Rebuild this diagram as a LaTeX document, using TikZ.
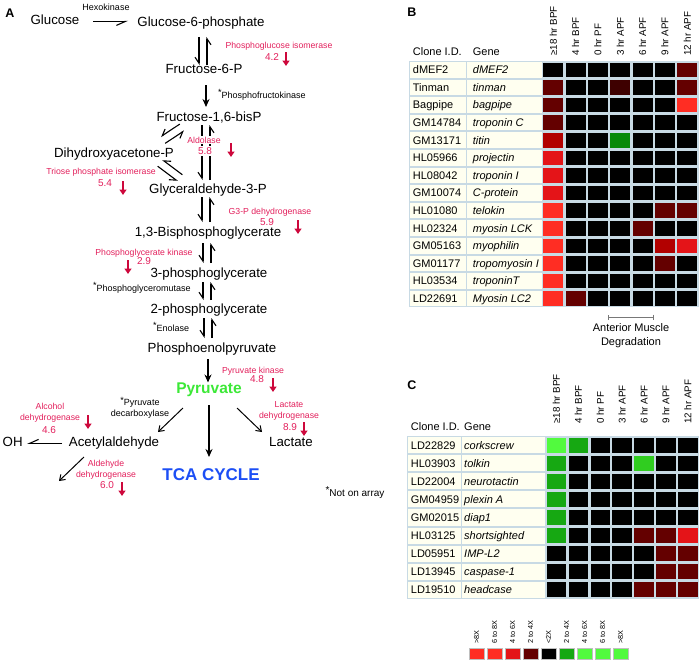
\documentclass[tikz,border=0pt]{standalone}
\usepackage{fontspec}
\setmainfont{Liberation Sans}
\usetikzlibrary{arrows.meta, calc}
\definecolor{cPink}{RGB}{226,32,92}
\definecolor{cPinkArrow}{RGB}{205,8,60}
\definecolor{cPyr}{RGB}{60,232,55}
\definecolor{cTca}{RGB}{28,78,245}
\definecolor{cCream}{RGB}{255,255,240}
\definecolor{cGrid}{RGB}{200,218,228}
\definecolor{cBracket}{RGB}{120,120,120}
\definecolor{hmK}{RGB}{0,0,0}
\definecolor{hmE}{RGB}{62,0,0}
\definecolor{hmD}{RGB}{100,0,0}
\definecolor{hmM}{RGB}{178,0,0}
\definecolor{hmR}{RGB}{228,20,24}
\definecolor{hmB}{RGB}{255,45,35}
\definecolor{hmN}{RGB}{8,138,8}
\definecolor{hmG}{RGB}{22,168,18}
\definecolor{hmH}{RGB}{48,205,32}
\definecolor{hmL}{RGB}{82,250,62}
\tikzset{
  met/.style={font=\fontsize{13.3}{15}\selectfont, inner sep=0pt,
              text height=9.5pt, text depth=2.8pt},
  enz/.style={font=\fontsize{8.7}{11}\selectfont, text=cPink, inner sep=0pt, align=center},
  enzval/.style={font=\fontsize{10}{12}\selectfont, text=cPink, inner sep=0pt},
  note/.style={font=\fontsize{9}{11}\selectfont, inner sep=0pt, align=center},
  panel/.style={font=\bfseries\fontsize{12.5}{14}\selectfont, inner sep=0pt},
  harp/.style={-{Straight Barb[right, length=6pt, width=8pt]}, line width=1.1pt},
  longharp/.style={-{Straight Barb[right, length=9pt, width=8pt]}, line width=1.1pt},
  bigarrow/.style={-{Stealth[length=8pt, width=7pt]}, line width=1.9pt},
  thinarrow/.style={-{Straight Barb[length=5pt, width=7pt]}, line width=1pt},
  pinkarrow/.style={-{Triangle[length=5.5pt, width=7pt]}, line width=2pt, draw=cPinkArrow},
  tabtext/.style={font=\fontsize{11}{13}\selectfont, anchor=west, inner sep=0pt,
                  text height=8pt, text depth=2.3pt},
  genetext/.style={tabtext, font=\itshape\fontsize{11}{13}\selectfont},
  colhead/.style={font=\fontsize{9.8}{11}\selectfont, rotate=90, anchor=west, inner sep=0pt},
  keyhead/.style={font=\fontsize{7.3}{9}\selectfont, rotate=90, anchor=west, inner sep=0pt},
  bracket/.style={{Bar[width=5pt]}-{Bar[width=5pt]}, draw=cBracket, line width=1pt},
}
\newcommand{\revpair}[2]{%
  \draw[harp] ($#1!4pt!-90:#2$) -- ($#2!4pt!90:#1$);
  \draw[harp] ($#2!4pt!-90:#1$) -- ($#1!4pt!90:#2$);
}
\newcommand{\downmark}[2]{\draw[pinkarrow] (#1,#2) -- ++(0,14);}

\begin{document}
\begin{tikzpicture}[x=1pt, y=-1pt]
\useasboundingbox (0,0) rectangle (700,661);

%% ============================================================
%%  PANEL A -- glycolysis
%% ============================================================
\node[panel] (pA) at (10,13) {A};

%% ----- metabolites -----
\node[met] (glc)   at (55,21.4)   {Glucose};
\node[met] (g6p)   at (201,23.4)  {Glucose-6-phosphate};
\node[met] (f6p)   at (204,70.4)  {Fructose-6-P};
\node[met] (f16bp) at (209,118.4) {Fructose-1,6-bisP};
\node[met] (dhap)  at (114,154.4) {Dihydroxyacetone-P};
\node[met] (ga3p)  at (208,190.4) {Glyceraldehyde-3-P};
\node[met] (bpg)   at (208,233.4) {1,3-Bisphosphoglycerate};
\node[met] (pg3)   at (209,274.4) {3-phosphoglycerate};
\node[met] (pg2)   at (209,310.4) {2-phosphoglycerate};
\node[met] (pep)   at (212,349.4) {Phosphoenolpyruvate};
\node[font=\bfseries\fontsize{15.5}{17}\selectfont, text=cPyr, inner sep=0pt]
  (pyr) at (209,389.5) {Pyruvate};
\node[met] (acet)  at (114,443.4) {Acetylaldehyde};
\node[met] (lact)  at (291,443.4) {Lactate};
\node[met, anchor=west] (etoh) at (2.5,443.4) {OH};
\node[font=\bfseries\fontsize{17}{19}\selectfont, text=cTca, inner sep=0pt]
  (tca) at (211,475) {TCA CYCLE};

%% ----- reactions -----
\draw[longharp] ([shift={(38,0)}]glc.center) -- ([shift={(-73,-2)}]g6p.center);
\revpair{([shift={(2,13.6)}]g6p.center)}{([shift={(-1,-5.4)}]f6p.center)}
\draw[bigarrow] ([shift={(2,14.6)}]f6p.center) -- ([shift={(-3,-11.4)}]f16bp.center);
\revpair{([shift={(-27,9)}]f16bp.center)}{([shift={(49,-14.4)}]dhap.center)}
\revpair{([shift={(-3,6.6)}]f16bp.center)}{([shift={(-2,-10.4)}]ga3p.center)}
\revpair{([shift={(46,8.6)}]dhap.center)}{([shift={(-28,-12.4)}]ga3p.center)}
\revpair{([shift={(-2,6.6)}]ga3p.center)}{([shift={(-2,-11.4)}]bpg.center)}
\revpair{([shift={(-1,9.6)}]bpg.center)}{([shift={(-2,-11.4)}]pg3.center)}
\revpair{([shift={(-2,7.6)}]pg3.center)}{([shift={(-2,-10.4)}]pg2.center)}
\revpair{([shift={(-1,7.6)}]pg2.center)}{([shift={(-4,-11.4)}]pep.center)}
\draw[bigarrow] ([shift={(-4,10)}]pep.center) -- ([shift={(-1,-7)}]pyr.center);
\draw[bigarrow] ([shift={(0,15.5)}]pyr.center) -- ([shift={(-2,-18)}]tca.center);
\draw[thinarrow] ([shift={(-26,18.5)}]pyr.center) -- ([shift={(44,-11.4)}]acet.center);
\draw[thinarrow] ([shift={(28,18.5)}]pyr.center) -- ([shift={(-29,-11.4)}]lact.center);
\draw[longharp] ([shift={(-52,0)}]acet.center) -- ([shift={(24.5,0)}]etoh.west);
\coordinate (acetate) at (59,481);
\draw[thinarrow] ([shift={(-30,13.6)}]acet.center) -- (acetate);

%% ----- enzymes not on array -----
\node[note] (hexo) at (106,7) {Hexokinase};
\node[note, anchor=west] (pfk) at (218,95) {\raisebox{2.5pt}{*}Phosphofructokinase};
\node[note, anchor=west] (pgm) at (93,288) {\raisebox{2.5pt}{*}Phosphoglyceromutase};
\node[note, anchor=west] (eno) at (153,327) {\raisebox{2.5pt}{*}Enolase};
\node[note] (pdc) at (140,408) {\raisebox{2.5pt}{*}Pyruvate\\decarboxylase};
\node[note, font=\fontsize{10}{12}\selectfont] (notarr) at (355,493)
  {\raisebox{3pt}{*}Not on array};

%% ----- enzymes on array (fold change) -----
\node[enz] (pgi) at (279,46) {Phosphoglucose isomerase};
\node[enzval] (pgiV) at (272,57) {4.2};
\downmark{286}{52}
\node[enz, fill=white, inner sep=1pt] (ald) at (204,140) {Aldolase};
\node[enzval, fill=white, inner sep=1pt] (aldV) at (205,151) {5.8};
\downmark{231}{143}
\node[enz] (tpi) at (101,172) {Triose phosphate isomerase};
\node[enzval] (tpiV) at (105,183) {5.4};
\downmark{123}{181}
\node[enz] (gapdh) at (270,212.5) {G3-P dehydrogenase};
\node[enzval] (gapdhV) at (267,221.8) {5.9};
\downmark{298}{220}
\node[enz] (pgk) at (144,253) {Phosphoglycerate kinase};
\node[enzval] (pgkV) at (144,261.5) {2.9};
\downmark{128}{260}
\node[enz] (pk) at (253,371) {Pyruvate kinase};
\node[enzval] (pkV) at (257,379.5) {4.8};
\downmark{273}{378}
\node[enz] (adh) at (50,412.5) {Alcohol\\dehydrogenase};
\node[enzval] (adhV) at (49,430) {4.6};
\downmark{88}{415}
\node[enz] (ldh) at (289,410.5) {Lactate\\dehydrogenase};
\node[enzval] (ldhV) at (290,427) {8.9};
\downmark{304}{422}
\node[enz] (aldh) at (106,469.5) {Aldehyde\\dehydrogenase};
\node[enzval] (aldhV) at (107,485) {6.0};
\downmark{122}{482}

%% ============================================================
%%  PANEL B -- muscle genes
%% ============================================================
\def\Btop{61}
\def\Brow{17.6}
\def\Bx{543.3}
\def\Bcol{22.33}
\node[panel] (pB) at (412,12) {B};
\node[tabtext] (cBh) at (412.7,53) {Clone I.D.};
\node[tabtext] (gBh) at (472.7,53) {Gene};
\foreach \lbl [count=\j from 0] in {≥18 hr BPF, 4 hr BPF, 0 hr PF, 3 hr APF, 6 hr APF, 9 hr APF, 12 hr APF}
  \node[colhead] (hB\j) at (\Bx+10+\j*\Bcol, 56) {\lbl};

\fill[cGrid] (409,\Btop) rectangle (699,307.4);
\foreach \cl/\gn/\cs [count=\i from 0] in {
  dMEF2/dMEF2/{K,K,K,K,K,K,D},
  Tinman/tinman/{D,K,K,E,K,K,D},
  Bagpipe/bagpipe/{D,K,K,K,K,K,B},
  GM14784/troponin C/{D,K,K,K,K,K,K},
  GM13171/titin/{M,K,K,N,K,K,K},
  HL05966/projectin/{R,K,K,K,K,K,K},
  HL08042/troponin I/{R,K,K,K,K,K,K},
  GM10074/C-protein/{R,K,K,K,K,K,K},
  HL01080/telokin/{B,K,K,K,K,D,D},
  HL02324/myosin LCK/{B,K,K,K,D,K,K},
  GM05163/myophilin/{B,K,K,K,K,M,R},
  GM01177/tropomyosin I/{B,K,K,K,K,D,K},
  HL03534/troponinT/{B,K,K,K,K,K,K},
  LD22691/Myosin LC2/{B,D,K,K,K,K,K}}{
  \pgfmathsetmacro{\yt}{\Btop+\i*\Brow}
  \fill[cCream] (410.3,\yt+1) rectangle (466.2,\yt+16.6);
  \fill[cCream] (467.2,\yt+1) rectangle (541.6,\yt+16.6);
  \node[tabtext] (cB\i) at (412.7,\yt+9.9) {\cl};
  \node[genetext] (gB\i) at (472.7,\yt+9.9) {\gn};
  \foreach \c [count=\j from 0] in \cs
    \fill[hm\c] (\Bx+\j*\Bcol,\yt+1.5) rectangle ++(20,14.6);
}

\node[font=\fontsize{11}{14}\selectfont, align=center, inner sep=0pt]
  (amd) at (631,336) {Anterior Muscle\\Degradation};
\draw[bracket] ([shift={(-23,-19)}]amd.center) -- ([shift={(23,-19)}]amd.center);

%% ============================================================
%%  PANEL C -- other genes
%% ============================================================
\def\Ctop{436}
\def\Crow{18.1}
\def\Cx{546.7}
\def\Ccol{21.9}
\node[panel] (pC) at (412,385) {C};
\node[tabtext] (cCh) at (410.7,428) {Clone I.D.};
\node[tabtext] (gCh) at (464,428) {Gene};
\foreach \lbl [count=\j from 0] in {≥18 hr BPF, 4 hr BPF, 0 hr PF, 3 hr APF, 6 hr APF, 9 hr APF, 12 hr APF}
  \node[colhead] (hC\j) at (\Cx+9.75+\j*\Ccol, 424) {\lbl};

\fill[cGrid] (407,\Ctop) rectangle (699,598.9);
\foreach \cl/\gn/\cs [count=\i from 0] in {
  LD22829/corkscrew/{L,G,K,K,K,K,K},
  HL03903/tolkin/{G,K,K,K,H,K,K},
  LD22004/neurotactin/{G,K,K,K,K,K,K},
  GM04959/plexin A/{G,K,K,K,K,K,K},
  GM02015/diap1/{G,K,K,K,K,K,K},
  HL03125/shortsighted/{G,K,K,K,D,D,R},
  LD05951/IMP-L2/{K,K,K,K,K,D,D},
  LD13945/caspase-1/{K,K,K,K,K,D,D},
  LD19510/headcase/{K,K,K,K,D,D,D}}{
  \pgfmathsetmacro{\yt}{\Ctop+\i*\Crow}
  \fill[cCream] (408,\yt+1) rectangle (460.5,\yt+17.1);
  \fill[cCream] (461.5,\yt+1) rectangle (544.8,\yt+17.1);
  \node[tabtext] (cC\i) at (410.7,\yt+10.2) {\cl};
  \node[genetext] (gC\i) at (464,\yt+10.2) {\gn};
  \foreach \c [count=\j from 0] in \cs
    \fill[hm\c] (\Cx+\j*\Ccol,\yt+1.5) rectangle ++(19.5,15.1);
}

%% ----- colour key -----
\foreach \c/\lbl [count=\k from 0] in {B/>8X, B/6 to 8X, R/4 to 6X, D/2 to 4X, K/<2X,
                                        G/2 to 4X, L/4 to 6X, L/6 to 8X, L/>8X}{
  \draw[draw=black!25, fill=hm\c] (469+\k*18,648) rectangle ++(15,11);
  \node[keyhead] (key\k) at (476.5+\k*18,644) {\lbl};
}

\end{tikzpicture}
\end{document}
